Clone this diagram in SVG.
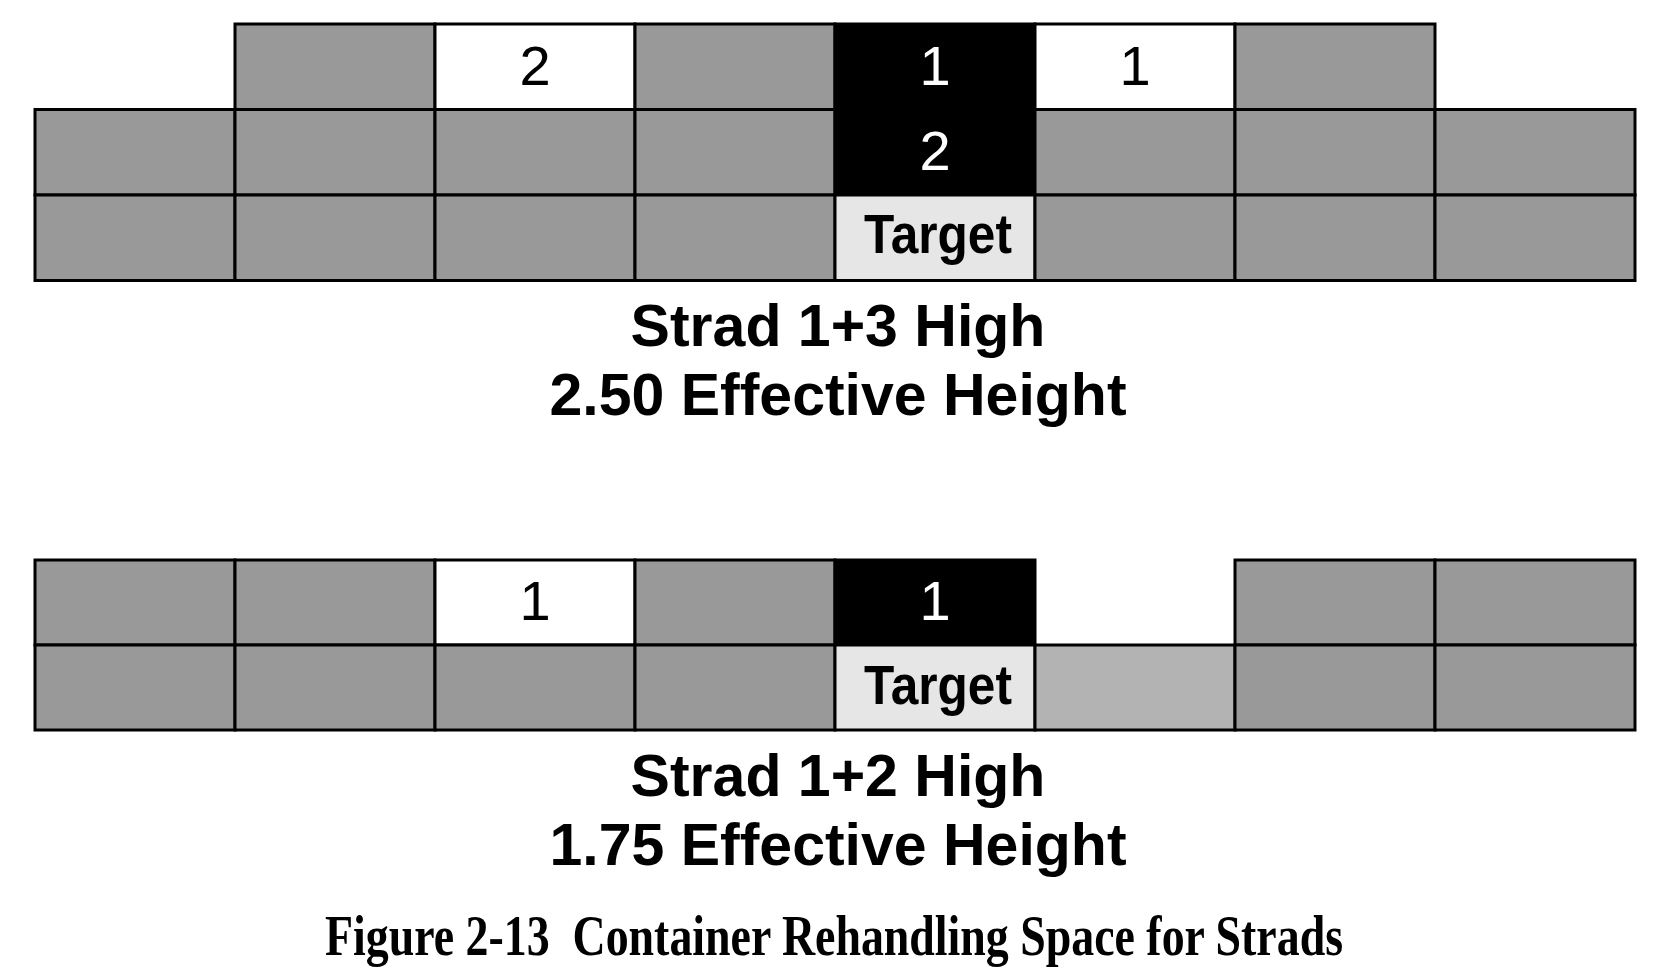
<svg xmlns="http://www.w3.org/2000/svg" width="1672" height="968" viewBox="0 0 1672 968">
<style>
.c rect{stroke:#000;stroke-width:3}
.g{fill:#999999}
.w{fill:#ffffff}
.k{fill:#000000}
.t{fill:#e6e6e6}
.l{fill:#b3b3b3}
.num{font-family:"Liberation Sans",Arial,sans-serif;font-size:56px;text-anchor:middle}
.tg{font-family:"Liberation Sans",Arial,sans-serif;font-weight:bold;font-size:56px;text-anchor:middle}
.cap{font-family:"Liberation Sans",Arial,sans-serif;font-weight:bold;font-size:59px;text-anchor:middle;fill:#000}
.fig{font-family:"Liberation Serif","Times New Roman",serif;font-weight:bold;font-size:58px;text-anchor:middle;fill:#000}
</style>
<rect width="1672" height="968" fill="#fff"/>
<g id="top-stack" class="c">
  <g id="t-r0-c1"><rect class="g" x="235" y="24" width="200" height="85.5"/></g>
  <g id="t-r0-c2"><rect class="w" x="435" y="24" width="200" height="85.5"/><text class="num" x="535" y="85" fill="#000">2</text></g>
  <g id="t-r0-c3"><rect class="g" x="635" y="24" width="200" height="85.5"/></g>
  <g id="t-r0-c4"><rect class="k" x="835" y="24" width="200" height="85.5"/><text class="num" x="935" y="85" fill="#fff">1</text></g>
  <g id="t-r0-c5"><rect class="w" x="1035" y="24" width="200" height="85.5"/><text class="num" x="1135" y="85" fill="#000">1</text></g>
  <g id="t-r0-c6"><rect class="g" x="1235" y="24" width="200" height="85.5"/></g>

  <g id="t-r1-c0"><rect class="g" x="35" y="109.5" width="200" height="85.5"/></g>
  <g id="t-r1-c1"><rect class="g" x="235" y="109.5" width="200" height="85.5"/></g>
  <g id="t-r1-c2"><rect class="g" x="435" y="109.5" width="200" height="85.5"/></g>
  <g id="t-r1-c3"><rect class="g" x="635" y="109.5" width="200" height="85.5"/></g>
  <g id="t-r1-c4"><rect class="k" x="835" y="109.5" width="200" height="85.5"/><text class="num" x="935" y="170" fill="#fff">2</text></g>
  <g id="t-r1-c5"><rect class="g" x="1035" y="109.5" width="200" height="85.5"/></g>
  <g id="t-r1-c6"><rect class="g" x="1235" y="109.5" width="200" height="85.5"/></g>
  <g id="t-r1-c7"><rect class="g" x="1435" y="109.5" width="200" height="85.5"/></g>

  <g id="t-r2-c0"><rect class="g" x="35" y="195" width="200" height="85.5"/></g>
  <g id="t-r2-c1"><rect class="g" x="235" y="195" width="200" height="85.5"/></g>
  <g id="t-r2-c2"><rect class="g" x="435" y="195" width="200" height="85.5"/></g>
  <g id="t-r2-c3"><rect class="g" x="635" y="195" width="200" height="85.5"/></g>
  <g id="t-target"><rect class="t" x="835" y="195" width="200" height="85.5"/><text class="tg" x="938" y="253" textLength="148" lengthAdjust="spacingAndGlyphs" fill="#000">Target</text></g>
  <g id="t-r2-c5"><rect class="g" x="1035" y="195" width="200" height="85.5"/></g>
  <g id="t-r2-c6"><rect class="g" x="1235" y="195" width="200" height="85.5"/></g>
  <g id="t-r2-c7"><rect class="g" x="1435" y="195" width="200" height="85.5"/></g>
</g>
<g id="top-caption">
  <text class="cap" x="838" y="346">Strad 1+3 High</text>
  <text class="cap" x="838" y="415">2.50 Effective Height</text>
</g>

<g id="bottom-stack" class="c">
  <g id="b-r0-c0"><rect class="g" x="35" y="560" width="200" height="85"/></g>
  <g id="b-r0-c1"><rect class="g" x="235" y="560" width="200" height="85"/></g>
  <g id="b-r0-c2"><rect class="w" x="435" y="560" width="200" height="85"/><text class="num" x="535" y="620" fill="#000">1</text></g>
  <g id="b-r0-c3"><rect class="g" x="635" y="560" width="200" height="85"/></g>
  <g id="b-r0-c4"><rect class="k" x="835" y="560" width="200" height="85"/><text class="num" x="935" y="620" fill="#fff">1</text></g>
  <g id="b-r0-c6"><rect class="g" x="1235" y="560" width="200" height="85"/></g>
  <g id="b-r0-c7"><rect class="g" x="1435" y="560" width="200" height="85"/></g>

  <g id="b-r1-c0"><rect class="g" x="35" y="645" width="200" height="85"/></g>
  <g id="b-r1-c1"><rect class="g" x="235" y="645" width="200" height="85"/></g>
  <g id="b-r1-c2"><rect class="g" x="435" y="645" width="200" height="85"/></g>
  <g id="b-r1-c3"><rect class="g" x="635" y="645" width="200" height="85"/></g>
  <g id="b-target"><rect class="t" x="835" y="645" width="200" height="85"/><text class="tg" x="938" y="704" textLength="148" lengthAdjust="spacingAndGlyphs" fill="#000">Target</text></g>
  <g id="b-r1-c5"><rect class="l" x="1035" y="645" width="200" height="85"/></g>
  <g id="b-r1-c6"><rect class="g" x="1235" y="645" width="200" height="85"/></g>
  <g id="b-r1-c7"><rect class="g" x="1435" y="645" width="200" height="85"/></g>
</g>
<g id="bottom-caption">
  <text class="cap" x="838" y="796">Strad 1+2 High</text>
  <text class="cap" x="838" y="865">1.75 Effective Height</text>
</g>
<g id="connectors"/>
<g id="figure-title">
  <text class="fig" x="834" y="955" xml:space="preserve" textLength="1018" lengthAdjust="spacingAndGlyphs">Figure 2-13  Container Rehandling Space for Strads</text>
</g>
</svg>
